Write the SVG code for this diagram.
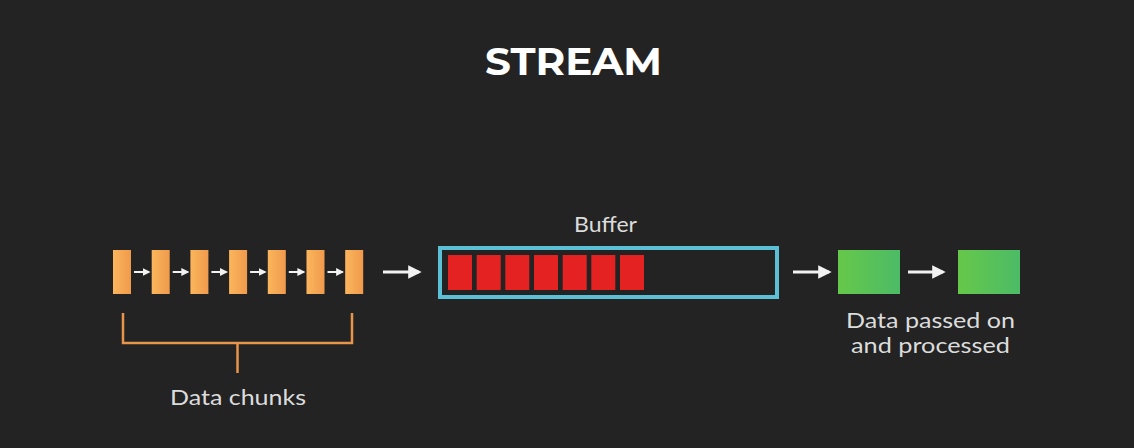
<svg xmlns="http://www.w3.org/2000/svg" width="1134" height="448" viewBox="0 0 1134 448">
<style>
.lbl{font-family:"Lato","Noto Sans",sans-serif;fill:#dcdcdc;font-size:21px;text-anchor:middle}
.title{font-family:"Montserrat","Liberation Sans",sans-serif;font-weight:bold;fill:#ffffff;font-size:38px;text-anchor:middle}
.chunk{fill:url(#og)}
.blk{fill:#e52222}
.grn{fill:url(#gg)}
.arr{stroke:#f2f2f2;stroke-width:3;fill:none}
.sarr{stroke:#f2f2f2;stroke-width:2;fill:none}
.brk{stroke:#e8944a;stroke-width:2.5;fill:none}
</style>
<defs>
<linearGradient id="og" x1="0" x2="1" y1="0" y2="0"><stop offset="0" stop-color="#fbb65c"/><stop offset="1" stop-color="#f09a4c"/></linearGradient>
<linearGradient id="gg" x1="0" x2="1" y1="0" y2="0"><stop offset="0" stop-color="#66c84a"/><stop offset="1" stop-color="#4cbb66"/></linearGradient>
<marker id="ah" viewBox="0 0 10 10" refX="8" refY="5" markerWidth="4.5" markerHeight="4.5" orient="auto" markerUnits="strokeWidth"><path d="M0,0 L10,5 L0,10 z" fill="#f2f2f2"/></marker>
<marker id="ahs" viewBox="0 0 10 10" refX="8" refY="5" markerWidth="4" markerHeight="4" orient="auto" markerUnits="strokeWidth"><path d="M0,0 L10,5 L0,10 z" fill="#f2f2f2"/></marker>
</defs>
<rect width="1134" height="448" fill="#232323"/>
<text class="title" x="573.5" y="75" textLength="177" lengthAdjust="spacingAndGlyphs">STREAM</text>

<g id="chunks">
<rect class="chunk" x="113" y="250" width="18" height="44"/>
<rect class="chunk" x="151.7" y="250" width="18" height="44"/>
<rect class="chunk" x="190.4" y="250" width="18" height="44"/>
<rect class="chunk" x="229.1" y="250" width="18" height="44"/>
<rect class="chunk" x="267.8" y="250" width="18" height="44"/>
<rect class="chunk" x="306.5" y="250" width="18" height="44"/>
<rect class="chunk" x="345.2" y="250" width="18" height="44"/>
</g>

<g id="bracket">
<path class="brk" d="M123,313 V343 H352 V313 M237.5,343 V373"/>
<text class="lbl" x="238" y="405" textLength="136" lengthAdjust="spacingAndGlyphs">Data chunks</text>
</g>

<g id="buffer">
<text class="lbl" x="605.5" y="232" textLength="63" lengthAdjust="spacingAndGlyphs">Buffer</text>
<rect x="440" y="248" width="337" height="49" fill="none" stroke="#5bbfd6" stroke-width="4"/>
<rect class="blk" x="448" y="255" width="24" height="35"/>
<rect class="blk" x="476.7" y="255" width="24" height="35"/>
<rect class="blk" x="505.3" y="255" width="24" height="35"/>
<rect class="blk" x="534" y="255" width="24" height="35"/>
<rect class="blk" x="562.7" y="255" width="24" height="35"/>
<rect class="blk" x="591.3" y="255" width="24" height="35"/>
<rect class="blk" x="620" y="255" width="24" height="35"/>
</g>

<g id="output1"><rect class="grn" x="838" y="250" width="62" height="44"/></g>
<g id="output2"><rect class="grn" x="958" y="250" width="62" height="44"/></g>
<g id="outlabel">
<text class="lbl" x="930.5" y="328" textLength="169" lengthAdjust="spacingAndGlyphs">Data passed on</text>
<text class="lbl" x="930.5" y="353" textLength="159" lengthAdjust="spacingAndGlyphs">and processed</text>
</g>

<g id="connectors">
<line class="sarr" x1="134" y1="272" x2="149" y2="272" marker-end="url(#ahs)"/>
<line class="sarr" x1="172.7" y1="272" x2="187.7" y2="272" marker-end="url(#ahs)"/>
<line class="sarr" x1="211.4" y1="272" x2="226.4" y2="272" marker-end="url(#ahs)"/>
<line class="sarr" x1="250.1" y1="272" x2="265.1" y2="272" marker-end="url(#ahs)"/>
<line class="sarr" x1="288.8" y1="272" x2="303.8" y2="272" marker-end="url(#ahs)"/>
<line class="sarr" x1="327.5" y1="272" x2="342.5" y2="272" marker-end="url(#ahs)"/>
<line class="arr" x1="383" y1="272" x2="419" y2="272" marker-end="url(#ah)"/>
<line class="arr" x1="793" y1="272" x2="829" y2="272" marker-end="url(#ah)"/>
<line class="arr" x1="908" y1="272" x2="943" y2="272" marker-end="url(#ah)"/>
</g>
</svg>
